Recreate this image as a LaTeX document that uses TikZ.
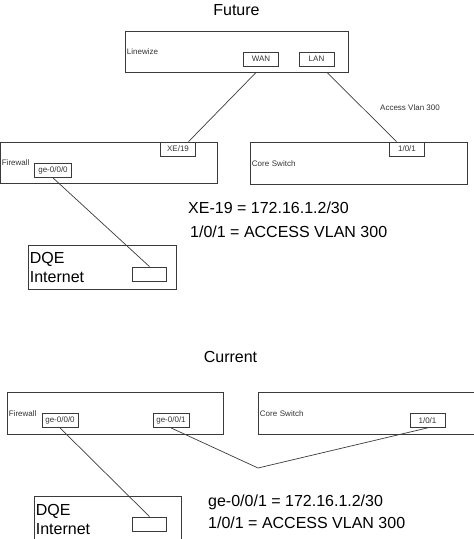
\documentclass[tikz,border=0pt]{standalone}
\usepackage{fontspec}
\setmainfont{Liberation Sans}
\definecolor{edge}{HTML}{3A3A3A}
\definecolor{lab}{HTML}{333333}
\tikzset{
  unit/.style={draw=edge, line width=0.8, inner xsep=1.5, align=left, anchor=north west, font=\fontsize{8}{9}\selectfont, text=lab},
  port/.style={draw=edge, line width=0.8, inner sep=0, minimum width=35, minimum height=14, font=\fontsize{8}{9}\selectfont, text=lab},
  slot/.style={draw=edge, line width=0.8, inner sep=0, minimum width=34, minimum height=14},
  big/.style={font=\fontsize{16}{19}\selectfont, inner sep=0},
  link/.style={draw=edge, line width=0.7}
}

\begin{document}
\begin{tikzpicture}[x=1pt,y=-1pt]
\clip (0,0) rectangle (474,539);
% future
\node[big] (fut) at (236.5,10) {Future};
\node[unit, minimum width=223, minimum height=41, text width=220] (lwz) at (125,31) {Linewize};
\node[port] (wan) at (261,59) {WAN};
\node[port] (lan) at (316.5,59) {LAN};
\node[unit, minimum width=217, minimum height=41, text width=214] (fw) at (0,142) {Firewall};
\node[port] (xe) at (178,149) {XE/19};
\node[port, minimum width=37] (gef) at (53,170.5) {ge-0/0/0};
\node[unit, minimum width=217, minimum height=42, text width=214] (cs) at (250,142) {Core Switch};
\node[port] (sw1) at (407,149) {1/0/1};
\node[font=\fontsize{8}{9}\selectfont, text=lab, anchor=west, inner sep=0] (vlan) at (380,108) {Access Vlan 300};
\node[unit, big, text=black, minimum width=148, minimum height=44, text width=145, inner xsep=1.5] (dqe) at (28,245) {DQE\\Internet};
\node[slot] (dqi) at (149.5,274) {};
\node[big, anchor=west] (ipf) at (188,208) {XE-19 = 172.16.1.2/30};
\node[big, anchor=west] (vlf) at (190,232) {1/0/1 = ACCESS VLAN 300};
\draw[link] (lwz.-48) -- (xe.35);
\draw[link] (lwz.-13) -- (sw1.145);
\draw[link] (gef.south) -- (dqi.north);
% current
\node[big] (cur) at (230.5,357) {Current};
\node[unit, minimum width=216, minimum height=42, text width=213] (fw2) at (7,392) {Firewall};
\node[port, minimum width=36] (gea) at (60,420.5) {ge-0/0/0};
\node[port, minimum width=36] (geb) at (171,420.5) {ge-0/0/1};
\node[unit, minimum width=222, minimum height=42, text width=219] (cs2) at (258,392) {Core Switch};
\node[port] (sw2) at (427.5,420.5) {1/0/1};
\coordinate (kink) at (258,468);
\node[unit, big, text=black, minimum width=147, minimum height=46, text width=144, inner xsep=1.5] (dqe2) at (34,496) {DQE\\Internet};
\node[slot] (dqi2) at (149.5,524) {};
\node[big, anchor=west] (ipc) at (208,502) {ge-0/0/1 = 172.16.1.2/30};
\node[big, anchor=west] (vlc) at (208,523) {1/0/1 = ACCESS VLAN 300};
\draw[link] (gea.south) -- (dqi2.north);
\draw[link] (geb.south) -- (kink) -- (sw2.south);
\end{tikzpicture}
\end{document}
